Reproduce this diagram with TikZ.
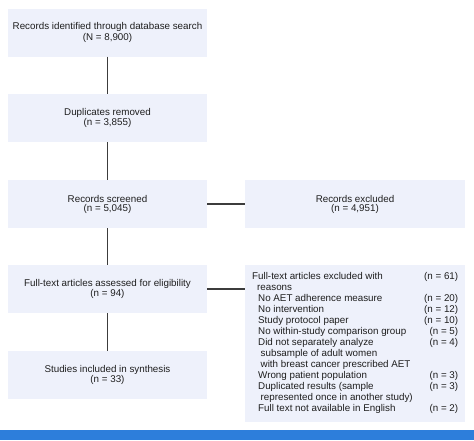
\documentclass[tikz,border=0pt]{standalone}
\usepackage{fontspec}
\setmainfont{Liberation Sans}
\definecolor{boxfill}{RGB}{238,241,251}
\definecolor{barblue}{RGB}{45,126,219}
\definecolor{linegray}{RGB}{60,60,60}
\definecolor{txt}{RGB}{30,30,30}
\tikzset{
  flowbox/.style={fill=boxfill, draw=none, minimum width=199pt, minimum height=48pt,
    align=center, inner sep=0pt, text=txt, font=\fontsize{9.8}{9}\selectfont},
  sidebox/.style={flowbox, minimum width=220pt},
  link/.style={draw=linegray, line width=1.6pt}
}
\begin{document}
\begin{tikzpicture}[x=1pt,y=-1pt]
\useasboundingbox (0,0) rectangle (474,440);
\node[flowbox] (ident) at (107.5,32.5) {Records identified through database search\\(N = 8,900)};
\node[flowbox] (dup) at (107.5,118) {Duplicates removed\\(n = 3,855)};
\node[flowbox] (screen) at (107.5,204) {Records screened\\(n = 5,045)};
\node[flowbox] (full) at (107.5,289) {Full-text articles assessed for eligibility\\(n = 94)};
\node[flowbox] (incl) at (107.5,375) {Studies included in synthesis\\(n = 33)};
\node[sidebox] (excl) at (355,204) {Records excluded\\(n = 4,951)};
\node[fill=boxfill, inner xsep=7pt, inner ysep=7pt, anchor=north west, text=txt,
  font=\fontsize{9.8}{11}\selectfont] (fullexcl) at (245,265) {%
\begin{tabular*}{206pt}{@{}l@{\extracolsep{\fill}}r@{}}
Full-text articles excluded with & (n = 61)\\
\hspace*{5pt}reasons & \\
\hspace*{6pt}No AET adherence measure & (n = 20)\\
\hspace*{6pt}No intervention & (n = 12)\\
\hspace*{6pt}Study protocol paper & (n = 10)\\
\hspace*{6pt}No within-study comparison group & (n = 5)\\
\hspace*{6pt}Did not separately analyze & (n = 4)\\
\hspace*{8.5pt}subsample of adult women & \\
\hspace*{8.5pt}with breast cancer prescribed AET & \\
\hspace*{6pt}Wrong patient population & (n = 3)\\
\hspace*{6pt}Duplicated results (sample & (n = 3)\\
\hspace*{8.5pt}represented once in another study) & \\
\hspace*{6pt}Full text not available in English & (n = 2)
\end{tabular*}};
\draw[link] (ident.south) -- (dup.north);
\draw[link] (dup.south) -- (screen.north);
\draw[link] (screen.south) -- (full.north);
\draw[link] (full.south) -- (incl.north);
\draw[link] (screen.east) -- (excl.west);
\draw[link] (full.east) -- (full.east -| fullexcl.west);
\fill[barblue] (0,430) rectangle (474,440);
\end{tikzpicture}
\end{document}
